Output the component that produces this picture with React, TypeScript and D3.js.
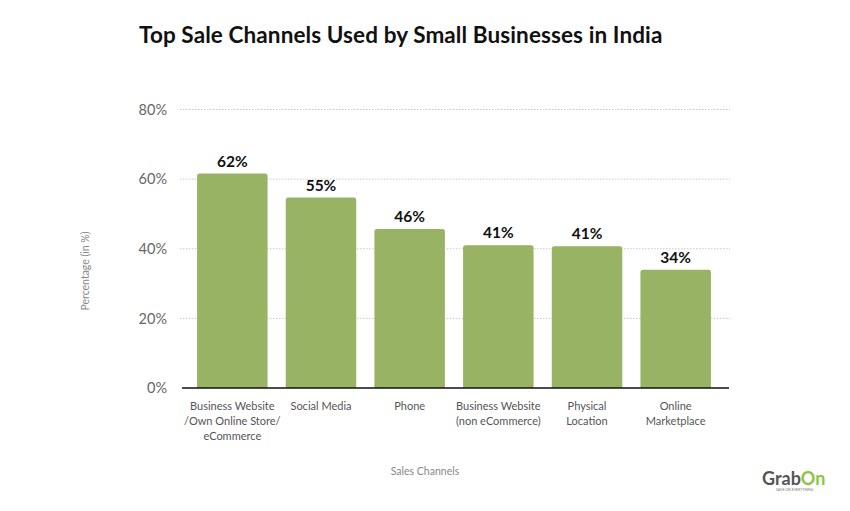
import React from "react";
import * as d3 from "d3";

const categories: string[][] = [
  ["Business Website", "/Own Online Store/", "eCommerce"],
  ["Social Media"],
  ["Phone"],
  ["Business Website", "(non eCommerce)"],
  ["Physical", "Location"],
  ["Online", "Marketplace"],
];
const values: number[] = [61.6, 54.7, 45.7, 41.0, 40.7, 34.0];
const valueLabels: string[] = ["62%", "55%", "46%", "41%", "41%", "34%"];
const yTicks: number[] = [0, 20, 40, 60, 80];

const W = 850;
const H = 511;

export default function App() {
  const x = d3
    .scaleBand<number>()
    .domain(d3.range(values.length))
    .range([182, 726])
    .paddingInner(0.205)
    .paddingOuter(0.17);
  const y = d3.scaleLinear().domain([0, 80]).range([388, 109.5]);
  const font = "Lato, 'Open Sans', sans-serif";

  return (
    <svg
      width={W}
      height={H}
      style={{ position: "absolute", left: 0, top: 0, background: "#fff" }}
    >
      <rect x={0} y={0} width={W} height={H} fill="#fff" />
      <text
        x={139}
        y={43}
        fontFamily={font}
        fontWeight={700}
        fontSize={22.5}
        letterSpacing={0.1}
        fill="#111"
      >
        Top Sale Channels Used by Small Businesses in India
      </text>

      {yTicks.map((t) => (
        <g key={t}>
          {t > 0 && (
            <line
              x1={180}
              x2={730}
              y1={y(t)}
              y2={y(t)}
              stroke="#c8c8c8"
              strokeWidth={1}
              strokeDasharray="1.5,1.5"
            />
          )}
          <text
            x={167}
            y={y(t)}
            dy="0.36em"
            textAnchor="end"
            fontFamily={font}
            fontSize={14.5}
            fill="#666"
          >
            {t}%
          </text>
        </g>
      ))}

      {values.map((v, i) => (
        <g key={i}>
          <path
            d={`M${x(i)!},${y(0)} V${y(v) + 2.5} Q${x(i)!},${y(v)} ${x(i)! + 2.5},${y(v)} H${x(i)! + x.bandwidth() - 2.5} Q${x(i)! + x.bandwidth()},${y(v)} ${x(i)! + x.bandwidth()},${y(v) + 2.5} V${y(0)} Z`}
            fill="#98b363"
          />
          <text
            x={x(i)! + x.bandwidth() / 2}
            y={y(v) - 7}
            textAnchor="middle"
            fontFamily={font}
            fontWeight={700}
            fontSize={15.5}
            fill="#111"
          >
            {valueLabels[i]}
          </text>
          {categories[i].map((line, j) => (
            <text
              key={j}
              x={x(i)! + x.bandwidth() / 2}
              y={410 + j * 15}
              textAnchor="middle"
              fontFamily={font}
              fontSize={11}
              fill="#555"
            >
              {line}
            </text>
          ))}
        </g>
      ))}

      <line x1={182} x2={729} y1={y(0)} y2={y(0)} stroke="#111" strokeWidth={1.3} />

      <text
        transform={`translate(89,271) rotate(-90)`}
        textAnchor="middle"
        fontFamily={font}
        fontSize={10.5}
        fill="#888"
      >
        Percentage (in %)
      </text>
      <text
        x={425}
        y={475}
        textAnchor="middle"
        fontFamily={font}
        fontSize={10.5}
        fill="#888"
      >
        Sales Channels
      </text>

      <text x={762} y={485} fontFamily={font} fontWeight={700} fontSize={18}>
        <tspan fill="#555">Grab</tspan>
        <tspan fill="#8cc63f">On</tspan>
      </text>
      <text x={776} y={491} fontFamily={font} fontSize={3.5} fill="#777">
        SAVE ON EVERYTHING
      </text>
    </svg>
  );
}
